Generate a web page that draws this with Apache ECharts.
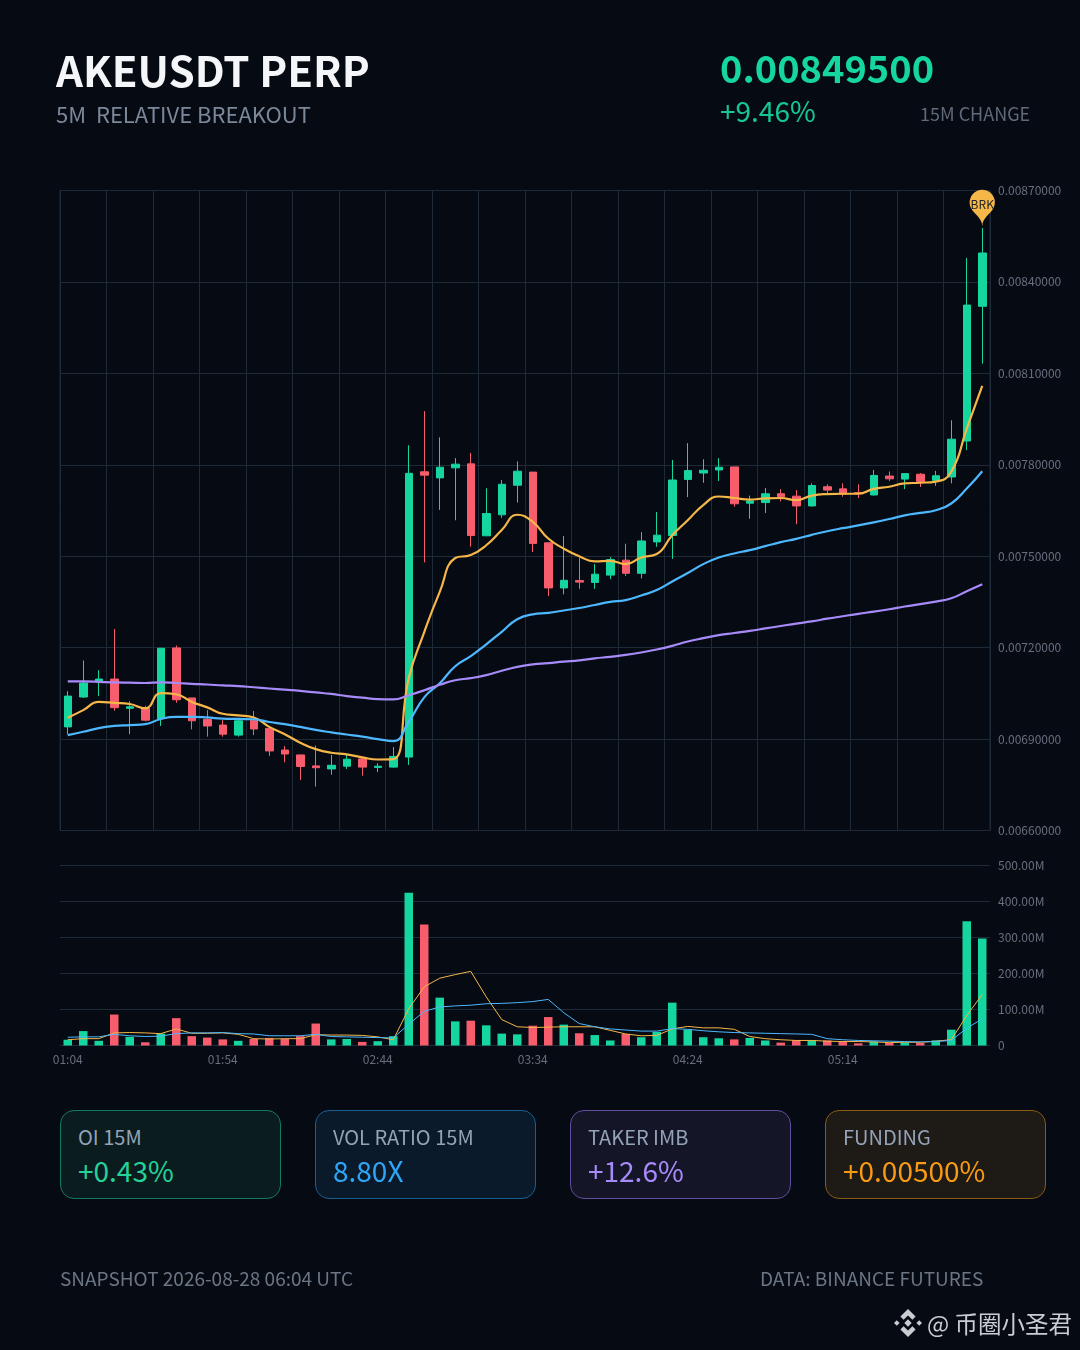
<!DOCTYPE html>
<html>
<head>
<meta charset="utf-8">
<script src="https://cdn.jsdelivr.net/npm/echarts@6/dist/echarts.min.js"></script>
<style>
html,body{margin:0;padding:0;background:#060a12;}
body{width:1080px;height:1350px;position:relative;overflow:hidden;font-family:"Noto Sans CJK SC","Noto Sans",sans-serif;}
#chart{position:absolute;left:0;top:0;width:1080px;height:1350px;}
.t{position:absolute;white-space:pre;line-height:1;}
.card{position:absolute;top:1110px;width:219px;height:87px;border-radius:14px;border:1px solid;}
.card .l{position:absolute;left:17px;top:14px;font-size:20px;line-height:24px;color:#94a3b8;white-space:pre;}
.card .v{position:absolute;left:17px;top:41px;font-size:28px;line-height:36px;white-space:pre;}
</style>
</head>
<body>
<div id="chart"></div>
<div class="t" style="left:56px;top:44px;font-size:42px;line-height:50px;font-weight:700;color:#f4f6f9;">AKEUSDT PERP</div>
<div class="t" style="left:56px;top:100px;font-size:22px;line-height:26px;color:#7b8899;">5M  RELATIVE BREAKOUT</div>
<div class="t" style="left:720px;top:42px;font-size:38px;line-height:50px;font-weight:700;color:#16d6a0;">0.00849500</div>
<div class="t" style="left:720px;top:92px;font-size:28px;line-height:36px;color:#16c795;">+9.46%</div>
<div class="t" style="left:920px;top:101px;font-size:18px;line-height:24px;color:#5f6b7a;">15M CHANGE</div>

<div class="card" style="left:60px;background:#0b1c1e;border-color:#127a62;"><div class="l">OI 15M</div><div class="v" style="color:#22d39b;">+0.43%</div></div>
<div class="card" style="left:315px;background:#0a1a2a;border-color:#1a5f92;"><div class="l">VOL RATIO 15M</div><div class="v" style="color:#2ea6f8;">8.80X</div></div>
<div class="card" style="left:570px;background:#151528;border-color:#5f4e9c;"><div class="l">TAKER IMB</div><div class="v" style="color:#a78bfa;">+12.6%</div></div>
<div class="card" style="left:825px;background:#1e1a16;border-color:#8a5a14;"><div class="l">FUNDING</div><div class="v" style="color:#f79a14;">+0.00500%</div></div>

<div class="t" style="left:60px;top:1266px;font-size:19px;line-height:24px;color:#6b7685;">SNAPSHOT 2026-08-28 06:04 UTC</div>
<div class="t" style="left:760px;top:1266px;font-size:19px;line-height:24px;color:#6b7685;">DATA: BINANCE FUTURES</div>

<svg style="position:absolute;left:893px;top:1308px" width="30" height="30" viewBox="0 0 30 30"><g fill="#c9ccd0"><path d="M15 1l7.600 7.600-3.200 3.200L15 7.400l-4.400 4.400-3.200-3.200z"/><path d="M15 29l-7.600-7.600 3.200-3.200 4.400 4.400 4.400-4.400 3.200 3.200z"/><path d="M1 15l2.800-2.800L6.600 15l-2.800 2.800z"/><path d="M23.400 15l2.800-2.800L29 15l-2.800 2.800z"/><path d="M15 11.300L18.700 15 15 18.700 11.300 15z"/></g></svg>
<div class="t" style="left:927px;top:1308px;font-size:23.5px;line-height:30px;color:#c9ccd0;">@ 币圈小圣君</div>

<script>
var categories = ['01:04','01:09','01:14','01:19','01:24','01:29','01:34','01:39','01:44','01:49','01:54','01:59','02:04','02:09','02:14','02:19','02:24','02:29','02:34','02:39','02:44','02:49','02:54','02:59','03:04','03:09','03:14','03:19','03:24','03:29','03:34','03:39','03:44','03:49','03:54','03:59','04:04','04:09','04:14','04:19','04:24','04:29','04:34','04:39','04:44','04:49','04:54','04:59','05:04','05:09','05:14','05:19','05:24','05:29','05:34','05:39','05:44','05:49','05:54','05:59'];
// prices in millionths (value x 1e6)
var opens  = [6940,7038,7089,7097,7001,7003,6967,7199,7035,6965,6946,6913,6962,6935,6864,6848,6812,6802,6811,6835,6807,6808,6841,7777,7757,7790,7803,7567,7636,7733,7776,7544,7396,7420,7414,7438,7487,7444,7547,7568,7752,7773,7783,7793,7674,7676,7705,7697,7665,7728,7721,7709,7701,7763,7753,7769,7749,7760,7878,8320];
var closes = [7041,7084,7097,7003,7006,6962,7198,7029,6960,6943,6916,6960,6933,6861,6851,6810,6806,6814,6834,6808,6811,6843,7772,7766,7792,7802,7568,7640,7736,7779,7542,7396,7421,7415,7441,7489,7444,7550,7569,7750,7781,7782,7792,7672,7681,7705,7695,7665,7732,7717,7704,7705,7765,7754,7771,7745,7764,7884,8324,8495];
var lows   = [6916,7035,7041,6993,6916,6958,6943,7019,6932,6908,6908,6908,6913,6845,6824,6766,6744,6783,6802,6780,6792,6806,6815,7480,7652,7618,7531,7567,7626,7676,7514,7369,7375,7393,7393,7425,7435,7427,7531,7491,7694,7741,7747,7662,7623,7642,7680,7605,7663,7706,7695,7691,7699,7747,7720,7727,7731,7739,7848,8132];
var highs  = [7057,7158,7126,7261,7024,7009,7198,7207,7035,6995,6962,6965,6992,6935,6877,6848,6879,6848,6850,6841,6821,6874,7864,7976,7890,7822,7839,7723,7750,7811,7776,7544,7566,7496,7474,7497,7541,7579,7645,7816,7871,7818,7822,7793,7699,7724,7720,7717,7739,7736,7739,7736,7783,7778,7771,7773,7780,7946,8479,8577];
var emaFast = [6970,6995,7022,7019,7015,7001,7051,7047,7022,7004,6983,6978,6971,6940,6916,6888,6867,6855,6850,6840,6833,6834,7100,7251,7383,7494,7504,7536,7586,7636,7613,7558,7525,7500,7483,7485,7474,7496,7507,7569,7618,7668,7696,7691,7686,7690,7691,7684,7699,7704,7705,7705,7721,7728,7739,7741,7745,7777,7919,8059];
var emaMid  = [6913,6924,6936,6943,6946,6949,6966,6973,6973,6971,6967,6966,6965,6956,6949,6940,6930,6922,6915,6908,6900,6893,6957,7037,7083,7139,7172,7211,7252,7293,7309,7314,7322,7330,7340,7350,7356,7371,7389,7417,7445,7474,7496,7509,7520,7533,7546,7557,7570,7582,7592,7601,7611,7622,7634,7642,7651,7673,7722,7779];
var emaSlow = [7089,7089,7088,7086,7085,7084,7086,7084,7081,7079,7076,7074,7070,7066,7062,7058,7053,7048,7041,7036,7031,7030,7044,7060,7078,7093,7100,7110,7124,7137,7145,7149,7154,7158,7165,7170,7176,7184,7194,7206,7220,7231,7241,7248,7255,7263,7271,7279,7286,7295,7303,7311,7318,7326,7335,7343,7351,7362,7385,7408];
// volume in millions
var volumes = [16,40,13,86,24,9,33,76,26,22,17,13,18,21,18,26,61,17,18,10,12,26,424,336,133,67,69,56,33,31,55,79,58,34,29,14,32,23,38,119,44,23,20,17,21,14,8,14,14,14,11,6,11,7,8,7,14,44,345,297];
var volMaFast = [16,19,19,35,36,35,33,46,34,34,35,31,19,18,19,19,30,29,29,28,24,16,102,163,187,197,206,135,72,52,50,51,52,52,52,42,32,27,28,46,53,49,49,45,25,19,16,14,14,12,11,11,10,8,9,9,12,16,83,142];
var volMaSlow = [23,24,24,31,27,25,26,33,35,35,36,33,32,27,27,27,31,25,24,23,22,21,59,95,107,110,112,116,117,119,122,128,91,61,52,46,43,40,40,47,45,41,38,36,35,34,33,32,31,19,16,14,13,12,11,10,11,14,48,74];
var priceTicks = {min:6600,max:8700,step:300};
var volTicks = {min:0,max:500,step:100};

var UP='#16d6a0', DOWN='#f75d6c', GRID='#1f2a38', AXT='#666f7e', ORANGE='#f5b748', BLUE='#4db8ff', PURPLE='#a78bfa';
var candleData = categories.map(function(_,i){return [opens[i],closes[i],lows[i],highs[i]];});
var volData = volumes.map(function(v,i){return {value:v,itemStyle:{color:closes[i]>=opens[i]?UP:DOWN}};});
function ln(name,data,color,w,x,y,smooth){return {name:name,type:'line',data:data,xAxisIndex:x,yAxisIndex:y,smooth:smooth,showSymbol:false,silent:true,lineStyle:{color:color,width:w},itemStyle:{color:color},z:5};}

var chart = echarts.init(document.getElementById('chart'),null,{renderer:'canvas',width:1080,height:1350});
chart.setOption({
  animation:false,
  backgroundColor:'transparent',
  textStyle:{fontFamily:'"Noto Sans CJK SC","Noto Sans",sans-serif'},
  grid:[
    {left:60,top:190.5,width:930,height:640,show:true,borderColor:GRID,borderWidth:1,backgroundColor:'transparent'},
    {left:60,top:865.5,width:930,height:180}
  ],
  xAxis:[
    {type:'category',gridIndex:0,data:categories,boundaryGap:true,axisLine:{show:false},axisTick:{show:false},axisLabel:{show:false},splitLine:{show:true,interval:2,lineStyle:{color:GRID,width:1}}},
    {type:'category',gridIndex:1,data:categories,boundaryGap:true,axisLine:{show:true,lineStyle:{color:GRID}},axisTick:{show:false},axisLabel:{interval:9,color:AXT,fontSize:12,margin:8},splitLine:{show:false}}
  ],
  yAxis:[
    {type:'value',gridIndex:0,position:'right',min:priceTicks.min,max:priceTicks.max,interval:priceTicks.step,scale:true,axisLine:{show:false},axisTick:{show:false},splitLine:{show:true,lineStyle:{color:GRID,width:1}},axisLabel:{color:AXT,fontSize:12,margin:8,formatter:function(v){return (v/1e6).toFixed(8);}}},
    {type:'value',gridIndex:1,position:'right',min:volTicks.min,max:volTicks.max,interval:volTicks.step,axisLine:{show:false},axisTick:{show:false},splitLine:{show:true,lineStyle:{color:GRID,width:1}},axisLabel:{color:AXT,fontSize:12,margin:8,formatter:function(v){return v===0?'0':v.toFixed(2)+'M';}}}
  ],
  series:[
    {name:'Candles',type:'candlestick',data:candleData,xAxisIndex:0,yAxisIndex:0,barWidth:8,silent:true,
     itemStyle:{color:UP,color0:DOWN,borderColor:UP,borderColor0:DOWN,borderWidth:1},
     markPoint:{silent:true,symbol:'pin',symbolSize:42,itemStyle:{color:ORANGE},
       label:{show:true,formatter:'BRK',color:'#1d2028',fontSize:12},
       data:[{coord:[categories[59],highs[59]+5],value:'BRK'}]}},
    ln('EMA fast',emaFast,ORANGE,2.2,0,0,true),
    ln('EMA mid',emaMid,BLUE,2.2,0,0,true),
    ln('EMA slow',emaSlow,PURPLE,2.2,0,0,true),
    {name:'Volume',type:'bar',data:volData,xAxisIndex:1,yAxisIndex:1,barWidth:8.5,silent:true},
    ln('Vol MA fast',volMaFast,ORANGE,1,1,1,false),
    ln('Vol MA slow',volMaSlow,BLUE,1,1,1,false)
  ]
});
</script>
</body>
</html>
